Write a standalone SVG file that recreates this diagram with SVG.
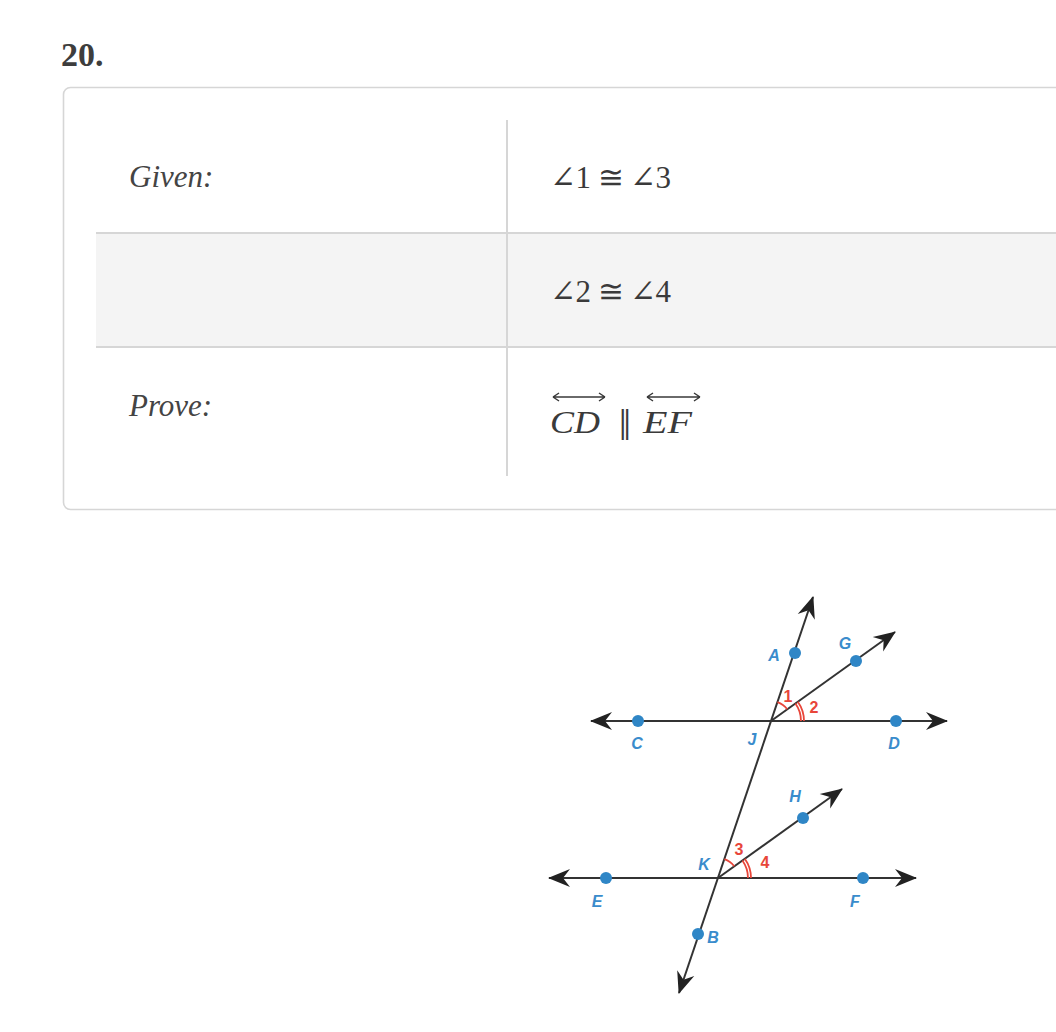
<svg xmlns="http://www.w3.org/2000/svg" width="1056" height="1032" viewBox="0 0 1056 1032">
<style>
.hd{font-family:"Liberation Serif","DejaVu Serif",serif;font-weight:bold;font-size:34px;fill:#3d3d3d}
.lbl{font-family:"Liberation Serif","DejaVu Serif",serif;font-style:italic;font-size:31px;fill:#444}
.m{font-family:"Liberation Serif","DejaVu Serif",serif;font-size:31px;fill:#3a3a3a}
.mi{font-family:"Liberation Serif","DejaVu Serif",serif;font-style:italic;font-size:32px;fill:#3a3a3a}
.grid{stroke:#d6d6d6;stroke-width:2;fill:none}
.ln{stroke:#333;stroke-width:2;fill:none}
.dot{fill:#2f86c6}
.pl{font-family:"Liberation Sans","Arial",sans-serif;font-style:italic;font-weight:bold;font-size:16px;fill:#3a8ccc;text-anchor:middle}
.an{font-family:"Liberation Sans","Arial",sans-serif;font-weight:bold;font-size:16px;fill:#e8463a;text-anchor:middle}
.arc{stroke:#e8463a;stroke-width:1.8;fill:none}
.ov{stroke:#3a3a3a;stroke-width:1.5;fill:none}
</style>
<defs>
<marker id="ah" viewBox="-22 -10 24 20" refX="0" refY="0" markerWidth="24" markerHeight="20" markerUnits="userSpaceOnUse" orient="auto-start-reverse">
<path d="M1,0 L-21,-9 L-14,0 L-21,9 Z" fill="#222"/>
</marker>
</defs>
<rect width="1056" height="1032" fill="#fff"/>
<text class="hd" x="61" y="66">20.</text>
<g id="table">
<rect x="96" y="233" width="960" height="114" fill="#f4f4f4"/>
<rect class="grid" x="63.5" y="87.5" width="1040" height="422" rx="7" style="stroke-width:1.6"/>
<line class="grid" x1="96" y1="233" x2="1056" y2="233"/>
<line class="grid" x1="96" y1="347" x2="1056" y2="347"/>
<line class="grid" x1="507" y1="120" x2="507" y2="476"/>
<text class="lbl" x="129" y="187">Given:</text>
<text class="lbl" x="129" y="416">Prove:</text>
<text class="m" x="550" y="188" textLength="121">∠1 ≅ ∠3</text>
<text class="m" x="550" y="302" textLength="121">∠2 ≅ ∠4</text>
<text class="mi" x="550" y="433" textLength="50" lengthAdjust="spacingAndGlyphs">CD</text>
<text class="m" x="625" y="440" style="font-size:44px;text-anchor:middle">‖</text>
<text class="mi" x="643" y="433" textLength="49" lengthAdjust="spacingAndGlyphs">EF</text>
<path class="ov" d="M553,397 H605 M553,397 l6,-4 M553,397 l6,4 M605,397 l-6,-4 M605,397 l-6,4"/>
<path class="ov" d="M647,397 H700 M647,397 l6,-4 M647,397 l6,4 M700,397 l-6,-4 M700,397 l-6,4"/>
</g>
<g id="connectors">
<line class="ln" x1="591" y1="721" x2="947" y2="721" marker-start="url(#ah)" marker-end="url(#ah)"/>
<line class="ln" x1="549" y1="878" x2="916" y2="878" marker-start="url(#ah)" marker-end="url(#ah)"/>
<line class="ln" x1="813" y1="597" x2="679" y2="993" marker-start="url(#ah)" marker-end="url(#ah)"/>
<line class="ln" x1="771" y1="721" x2="895" y2="632" marker-end="url(#ah)"/>
<line class="ln" x1="718" y1="878" x2="842" y2="789" marker-end="url(#ah)"/>
<path class="arc" d="M777.4,702.1 A20,20 0 0 1 787.25,709.3"/>
<path class="arc" d="M795.4,703.5 A30,30 0 0 1 801,721"/>
<path class="arc" d="M797.8,701.75 A33,33 0 0 1 804,721"/>
<path class="arc" d="M724.4,859.1 A20,20 0 0 1 734.25,866.34"/>
<path class="arc" d="M742.4,860.5 A30,30 0 0 1 748,878"/>
<path class="arc" d="M744.8,858.75 A33,33 0 0 1 751,878"/>
</g>
<g id="pt-A"><circle class="dot" cx="795" cy="653" r="6"/><text class="pl" x="774" y="661">A</text></g>
<g id="pt-G"><circle class="dot" cx="856" cy="661" r="6"/><text class="pl" x="845" y="649">G</text></g>
<g id="pt-C"><circle class="dot" cx="638" cy="721" r="6"/><text class="pl" x="637" y="749">C</text></g>
<g id="pt-J"><text class="pl" x="752" y="745">J</text></g>
<g id="pt-D"><circle class="dot" cx="896" cy="721" r="6"/><text class="pl" x="894" y="749">D</text></g>
<g id="pt-H"><circle class="dot" cx="803" cy="818" r="6"/><text class="pl" x="795" y="802">H</text></g>
<g id="pt-K"><text class="pl" x="704" y="870">K</text></g>
<g id="pt-E"><circle class="dot" cx="606" cy="878" r="6"/><text class="pl" x="597" y="907">E</text></g>
<g id="pt-F"><circle class="dot" cx="863" cy="878" r="6"/><text class="pl" x="855" y="907">F</text></g>
<g id="pt-B"><circle class="dot" cx="698" cy="934" r="6"/><text class="pl" x="713" y="943">B</text></g>
<g id="angles">
<text class="an" x="788" y="702">1</text>
<text class="an" x="814" y="713">2</text>
<text class="an" x="739" y="855">3</text>
<text class="an" x="765" y="868">4</text>
</g>
</svg>
